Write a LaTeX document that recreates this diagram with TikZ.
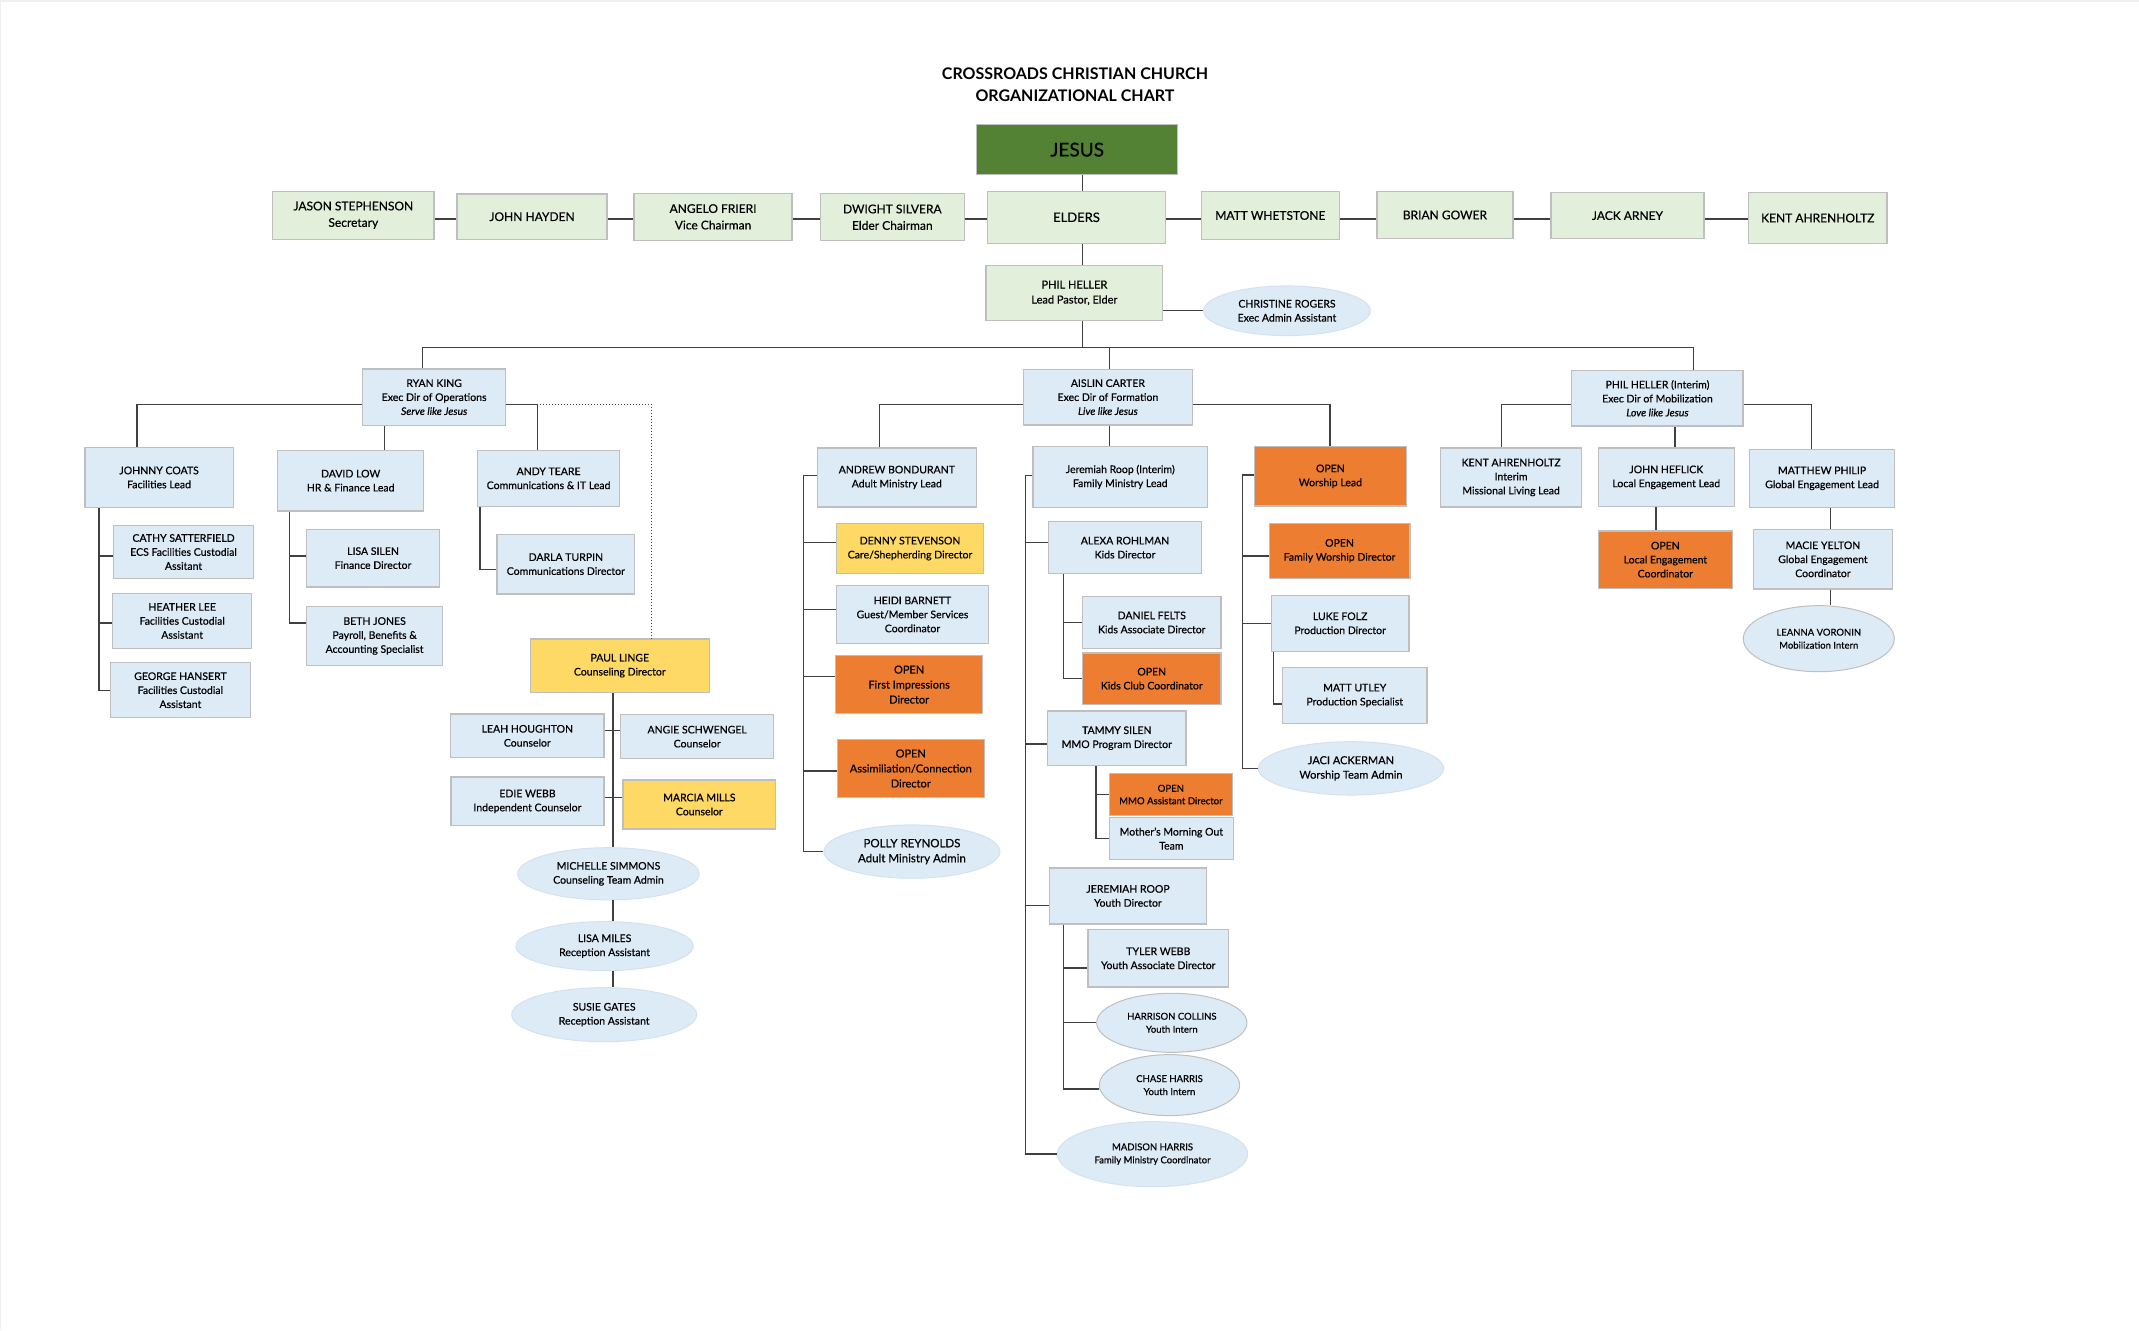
\documentclass[tikz,border=0pt]{standalone}
\usepackage{fontspec}
\setmainfont{Lato}[UprightFeatures={FakeBold=0.5}, ItalicFeatures={FakeBold=0.5}]
\usetikzlibrary{shapes.geometric}
\definecolor{lgreen}{HTML}{E2EFDA}
\definecolor{lblue}{HTML}{DDEBF7}
\definecolor{orangeF}{HTML}{ED7D31}
\definecolor{yellowF}{HTML}{FFD966}
\definecolor{darkgreen}{HTML}{548235}
\definecolor{bordergray}{HTML}{BFBFBF}
\definecolor{ellfaint}{HTML}{D3E2F1}
\definecolor{linegray}{HTML}{404040}
\definecolor{framegray}{HTML}{EFEFEF}
\newcommand\fsz[2]{\fontsize{#1}{#2}\selectfont}
\newcommand\ocbox[7]{%
  \pgfmathsetmacro\ocw{(#5-#3)*1.3642}%
  \pgfmathsetmacro\och{(#6-#4)*1.3642}%
  \node[#2,minimum width=\ocw pt,minimum height=\och pt] (#1) at ({(#3+#5)/2},{(#4+#6)/2}) {#7};}
\tikzset{
  base/.style={draw=bordergray, line width=1.3pt, inner sep=1pt, align=center, font=\fsz{10.5}{14}, text=black},
  gbox/.style={base, fill=lgreen},
  rowbox/.style={gbox, font=\fsz{12}{16.5}},
  bbox/.style={base, fill=lblue},
  obox/.style={base, fill=orangeF},
  ybox/.style={base, fill=yellowF},
  ell/.style={ellipse, fill=lblue, draw=ellfaint, line width=1pt, inner sep=0pt, align=center, font=\fsz{10.5}{14}, text=black},
  ellb/.style={ell, draw=bordergray, font=\fsz{9.5}{13}},
  conn/.style={draw=linegray, line width=1.4pt},
  dotline/.style={draw=linegray, line width=1pt, dotted},
}
\begin{document}
\begin{tikzpicture}[x=1.3642pt,y=-1.3642pt]
\useasboundingbox (0,0) rectangle (1568,975);
\fill[framegray] (0,0) rectangle (1568,1.3);
\fill[framegray] (0,0) rectangle (1,975);

\node[align=center, font=\bfseries\fsz{16}{21.5}] (title) at (788,62) {CROSSROADS CHRISTIAN CHURCH\\ORGANIZATIONAL CHART};

% top
\ocbox{jesus}{base, fill=darkgreen, font=\fsz{19}{22}}{716}{91.4}{863.3}{128}{JESUS}
\ocbox{jason}{rowbox}{199.8}{140.2}{318.2}{175.4}{JASON STEPHENSON\\Secretary}
\ocbox{hayden}{rowbox}{335}{142.3}{445}{175.4}{JOHN HAYDEN}
\ocbox{angelo}{rowbox}{464.8}{141.7}{580.6}{176.2}{ANGELO FRIERI\\Vice Chairman}
\ocbox{dwight}{rowbox}{601.3}{142}{706.9}{176.5}{DWIGHT SILVERA\\Elder Chairman}
\ocbox{elders}{rowbox, font=\fsz{13}{16}}{723.7}{140.2}{854.5}{178.4}{ELDERS}
\ocbox{matt}{rowbox}{880.7}{140.5}{981.7}{175.4}{MATT WHETSTONE}
\ocbox{brian}{rowbox}{1009.4}{140.5}{1109}{174.7}{BRIAN GOWER}
\ocbox{jack}{rowbox}{1137}{141.2}{1249}{174.9}{JACK ARNEY}
\ocbox{kent}{rowbox}{1281.7}{141.2}{1383.3}{178.4}{KENT AHRENHOLTZ}
\ocbox{phil}{gbox, font=\fsz{11}{15}}{722.8}{194.5}{852.4}{234.8}{PHIL HELLER\\Lead Pastor, Elder}
\ocbox{christine}{ell}{882.3}{209.6}{1004.5}{246}{CHRISTINE ROGERS\\Exec Admin Assistant}

% directors
\ocbox{ryan}{bbox}{265.8}{270.5}{370.7}{311.8}{RYAN KING\\Exec Dir of Operations\\\textit{Serve like Jesus}}
\ocbox{aislin}{bbox}{750.1}{270.7}{874.2}{311.6}{AISLIN CARTER\\Exec Dir of Formation\\\textit{Live like Jesus}}
\ocbox{phili}{bbox}{1152.2}{271.8}{1277.8}{312.2}{PHIL HELLER (Interim)\\Exec Dir of Mobilization\\\textit{Love like Jesus}}

% operations
\ocbox{johnny}{bbox}{62.2}{327.9}{171}{372.1}{JOHNNY COATS\\Facilities Lead}
\ocbox{cathy}{bbox}{83.1}{385.1}{186}{424.2}{CATHY SATTERFIELD\\ECS Facilities Custodial\\Assitant}
\ocbox{heather}{bbox}{82.5}{434.9}{184.6}{475.5}{HEATHER LEE\\Facilities Custodial\\Assistant}
\ocbox{george}{bbox}{80.8}{485.8}{183.7}{526.1}{GEORGE HANSERT\\Facilities Custodial\\Assistant}
\ocbox{david}{bbox}{203.4}{330.1}{310.7}{374.6}{DAVID LOW\\HR \& Finance Lead}
\ocbox{lisa}{bbox}{224.6}{388}{322.3}{430.3}{LISA SILEN\\Finance Director}
\ocbox{beth}{bbox}{224.6}{444.7}{324.6}{487.7}{BETH JONES\\Payroll, Benefits \&\\Accounting Specialist}
\ocbox{andy}{bbox}{350.1}{330.1}{454.2}{371.2}{ANDY TEARE\\Communications \& IT Lead}
\ocbox{darla}{bbox}{364.4}{391.7}{465.2}{435.4}{DARLA TURPIN\\Communications Director}
\ocbox{paul}{ybox}{388.7}{468.4}{520}{507.5}{PAUL LINGE\\Counseling Director}
\ocbox{leah}{bbox}{330.4}{523.4}{442.7}{555.4}{LEAH HOUGHTON\\Counselor}
\ocbox{angie}{bbox}{455}{523.9}{567.1}{556.1}{ANGIE SCHWENGEL\\Counselor}
\ocbox{edie}{bbox}{330.6}{569.6}{442.7}{605.3}{EDIE WEBB\\Independent Counselor}
\ocbox{marcia}{ybox}{456.7}{571.8}{568.6}{607.7}{MARCIA MILLS\\Counselor}
\ocbox{michelle}{ell}{379.5}{621.4}{512.6}{659.7}{MICHELLE SIMMONS\\Counseling Team Admin}
\ocbox{lisamiles}{ell}{378.2}{675.6}{508.2}{711.5}{LISA MILES\\Reception Assistant}
\ocbox{susie}{ell}{375.1}{724}{510.7}{763.6}{SUSIE GATES\\Reception Assistant}

% formation
\ocbox{andrew}{bbox}{599.1}{328.4}{715.7}{371.6}{ANDREW BONDURANT\\Adult Ministry Lead}
\ocbox{denny}{ybox}{613.1}{383.9}{721.1}{420.3}{DENNY STEVENSON\\Care/Shepherding Director}
\ocbox{heidi}{bbox}{613.1}{429.1}{724.7}{471.8}{HEIDI BARNETT\\Guest/Member Services\\Coordinator}
\ocbox{openfi}{obox, font=\fsz{11}{15}}{612.6}{480.6}{720.3}{523.1}{OPEN\\First Impressions\\Director}
\ocbox{openas}{obox, font=\fsz{11}{15}}{613.8}{542}{721.5}{584.7}{OPEN\\Assimiliation/Connection\\Director}
\ocbox{polly}{ell, font=\fsz{11.5}{15}}{604}{604.7}{733}{643.8}{POLLY REYNOLDS\\Adult Ministry Admin}
\ocbox{jroop}{bbox}{757.2}{327.2}{885.2}{371.9}{Jeremiah Roop (Interim)\\Family Ministry Lead}
\ocbox{alexa}{bbox}{768.5}{382.4}{880.9}{420.5}{ALEXA ROHLMAN\\Kids Director}
\ocbox{daniel}{bbox}{793.6}{437.4}{895}{475.2}{DANIEL FELTS\\Kids Associate Director}
\ocbox{openkids}{obox}{793.6}{478.7}{895}{516.3}{OPEN\\Kids Club Coordinator}
\ocbox{tammy}{bbox}{768}{521.2}{869.4}{561}{TAMMY SILEN\\MMO Program Director}
\ocbox{openmmo}{obox, font=\fsz{9.6}{12.5}}{813.2}{567.2}{903.4}{597.7}{OPEN\\MMO Assistant Director}
\ocbox{mothers}{bbox}{813.2}{599.4}{904.1}{630}{Mother's Morning Out\\Team}
\ocbox{youth}{bbox}{769.2}{636.2}{884.5}{677.3}{JEREMIAH ROOP\\Youth Director}
\ocbox{tyler}{bbox}{797.5}{681.5}{900.7}{723.5}{TYLER WEBB\\Youth Associate Director}
\ocbox{harrison}{ellb}{803.9}{728.1}{914.1}{771.4}{HARRISON COLLINS\\Youth Intern}
\ocbox{chase}{ellb}{805.9}{773.1}{908.7}{817.8}{CHASE HARRIS\\Youth Intern}
\ocbox{madison}{ell, font=\fsz{9.5}{13}}{775.1}{822.2}{914.6}{869.9}{MADISON HARRIS\\Family Ministry Coordinator}
\ocbox{worship}{obox}{919.4}{327.4}{1031.1}{370.9}{OPEN\\Worship Lead}
\ocbox{famworship}{obox}{930.4}{383.6}{1033.5}{423.9}{OPEN\\Family Worship Director}
\ocbox{luke}{bbox}{931.9}{436.4}{1032.8}{477.4}{LUKE FOLZ\\Production Director}
\ocbox{mattu}{bbox}{940.2}{489.2}{1046}{530.5}{MATT UTLEY\\Production Specialist}
\ocbox{jaci}{ell, font=\fsz{11}{14.5}}{922.4}{543.7}{1058.2}{582.8}{JACI ACKERMAN\\Worship Team Admin}

% mobilization
\ocbox{kent2}{bbox}{1056}{328.4}{1159.4}{371.6}{KENT AHRENHOLTZ\\Interim\\Missional Living Lead}
\ocbox{heflick}{bbox}{1171.6}{328.4}{1271.3}{371.4}{JOHN HEFLICK\\Local Engagement Lead}
\ocbox{matthew}{bbox}{1282.3}{329.4}{1389}{371.9}{MATTHEW PHILIP\\Global Engagement Lead}
\ocbox{openlocal}{obox}{1171.6}{389.2}{1270}{431.3}{OPEN\\Local Engagement\\Coordinator}
\ocbox{macie}{bbox}{1285.2}{388.3}{1387.4}{431.7}{MACIE YELTON\\Global Engagement\\Coordinator}
\ocbox{leanna}{ellb}{1277.9}{444}{1388.6}{492.4}{LEANNA VORONIN\\Mobilization Intern}

% ---------- connectors ----------
\coordinate (row) at (0,160.5);
\draw[conn] (jason.east |- row) -- (hayden.west |- row);
\draw[conn] (hayden.east |- row) -- (angelo.west |- row);
\draw[conn] (angelo.east |- row) -- (dwight.west |- row);
\draw[conn] (dwight.east |- row) -- (elders.west |- row);
\draw[conn] (elders.east |- row) -- (matt.west |- row);
\draw[conn] (matt.east |- row) -- (brian.west |- row);
\draw[conn] (brian.east |- row) -- (jack.west |- row);
\draw[conn] (jack.east |- row) -- (kent.west |- row);

\coordinate (cx) at (793.4,0);
\draw[conn] (cx |- jesus.south) -- (cx |- elders.north);
\draw[conn] (cx |- elders.south) -- (cx |- phil.north);
\draw[conn] (phil.east |- christine.west) -- (christine.west);
\coordinate (m1) at (309.5,254.8);
\coordinate (m2) at (813.2,254.8);
\coordinate (m3) at (1241.3,254.8);
\draw[conn] (cx |- phil.south) -- (cx |- m1);
\draw[conn] (m1 |- ryan.north) -- (m1) -- (m3) -- (m3 |- phili.north);
\draw[conn] (m2) -- (m2 |- aislin.north);

% operations branches
\coordinate (ryl) at (100.5,296.4);
\coordinate (ryr) at (393.9,296.4);
\coordinate (dlx) at (281.7,0);
\coordinate (dotc) at (477.5,296.4);
\draw[conn] (ryl |- johnny.north) -- (ryl) -- (ryl -| ryan.west);
\draw[conn] (ryr -| ryan.east) -- (ryr) -- (ryr |- andy.north);
\draw[conn] (dlx |- ryan.south) -- (dlx |- david.north);
\draw[dotline] (ryr) -- (dotc) -- (dotc |- paul.north);

\coordinate (jcx) at (72.7,0);
\draw[conn] (jcx |- johnny.south) |- (george.west);
\coordinate (jt1) at (72.7,407.6);
\coordinate (jt2) at (72.7,456.7);
\draw[conn] (jt1) -- (jt1 -| cathy.west);
\draw[conn] (jt2) -- (jt2 -| heather.west);

\coordinate (dcb) at (212.1,456.7);
\coordinate (dt1) at (212.1,407.6);
\draw[conn] (dcb |- david.south) -- (dcb) -- (dcb -| beth.west);
\draw[conn] (dt1) -- (dt1 -| lisa.west);

\coordinate (anb) at (351.9,417.3);
\draw[conn] (anb |- andy.south) -- (anb) -- (anb -| darla.west);

\coordinate (pcx) at (449.3,0);
\coordinate (pt1) at (449.3,535.4);
\coordinate (pt2) at (449.3,584.7);
\draw[conn] (pcx |- paul.south) -- (pcx |- michelle.north);
\draw[conn] (pt1 -| leah.east) -- (pt1 -| angie.west);
\draw[conn] (pt2 -| edie.east) -- (pt2 -| marcia.west);
\draw[conn] (pcx |- michelle.south) -- (pcx |- lisamiles.north);
\draw[conn] (pcx |- lisamiles.south) -- (pcx |- susie.north);

% formation branches
\coordinate (al) at (644.6,296.4);
\coordinate (ar) at (974.9,296.6);
\draw[conn] (al |- andrew.north) -- (al) -- (al -| aislin.west);
\draw[conn] (ar -| aislin.east) -- (ar) -- (ar |- worship.north);
\draw[conn] (m2 |- aislin.south) -- (m2 |- jroop.north);

\coordinate (ac) at (588.9,348.4);
\draw[conn] (ac -| andrew.west) -- (ac) |- (polly.west);
\coordinate (a1) at (588.9,397.8);
\coordinate (a2) at (588.9,446.7);
\coordinate (a3) at (588.9,496);
\coordinate (a4) at (588.9,565.2);
\draw[conn] (a1) -- (a1 -| denny.west);
\draw[conn] (a2) -- (a2 -| heidi.west);
\draw[conn] (a3) -- (a3 -| openfi.west);
\draw[conn] (a4) -- (a4 -| openas.west);

\coordinate (fc) at (751.6,348.4);
\draw[conn] (fc -| jroop.west) -- (fc) |- (madison.west);
\coordinate (f1) at (751.6,397.8);
\coordinate (f2) at (751.6,545.4);
\coordinate (f3) at (751.6,663.9);
\draw[conn] (f1) -- (f1 -| alexa.west);
\draw[conn] (f2) -- (f2 -| tammy.west);
\draw[conn] (f3) -- (f3 -| youth.west);

\coordinate (ksx) at (779.5,0);
\draw[conn] (ksx |- alexa.south) |- (openkids.west);
\draw[conn] (ksx |- daniel.west) -- (daniel.west);

\coordinate (msx) at (803.3,0);
\draw[conn] (msx |- tammy.south) |- (mothers.west);
\draw[conn] (msx |- openmmo.west) -- (openmmo.west);

\coordinate (ysb) at (779.5,798.2);
\coordinate (ys1) at (779.5,709.5);
\draw[conn] (ysb |- youth.south) -- (ysb) -- (ysb -| chase.west);
\draw[conn] (ys1) -- (ys1 -| tyler.west);
\draw[conn] (ysb |- harrison.west) -- (harrison.west);

\coordinate (wc) at (910.9,348.3);
\draw[conn] (wc -| worship.west) -- (wc) |- (jaci.west);
\coordinate (w1) at (910.9,407.6);
\draw[conn] (w1) -- (w1 -| famworship.west);
\draw[conn] (wc |- luke.west) -- (luke.west);
\coordinate (lsb) at (933.6,516);
\draw[conn] (lsb |- luke.south) -- (lsb) -- (lsb -| mattu.west);

% mobilization branches
\coordinate (ml) at (1100.5,296.6);
\coordinate (mr) at (1328,296.6);
\draw[conn] (ml |- kent2.north) -- (ml) -- (ml -| phili.west);
\draw[conn] (mr -| phili.east) -- (mr) -- (mr |- matthew.north);
\coordinate (hcx) at (1227.8,0);
\draw[conn] (hcx |- phili.south) -- (hcx |- heflick.north);
\coordinate (hlx) at (1213.9,0);
\draw[conn] (hlx |- heflick.south) -- (hlx |- openlocal.north);
\coordinate (mpx) at (1342,0);
\draw[conn] (mpx |- matthew.south) -- (mpx |- macie.north);
\draw[conn] (mpx |- macie.south) -- (mpx |- leanna.north);
\end{tikzpicture}
\end{document}
